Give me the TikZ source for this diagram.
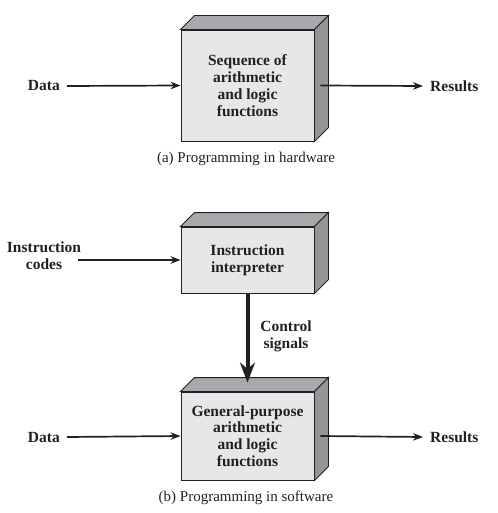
\documentclass[tikz,border=0pt]{standalone}
\usepackage{fontspec}
\setmainfont{Liberation Serif}
\usetikzlibrary{arrows.meta,calc}
\definecolor{frontc}{HTML}{E6E7E8}
\definecolor{topc}{HTML}{A7A9AC}
\definecolor{sidec}{HTML}{939598}
\definecolor{inkc}{HTML}{231F20}
\tikzset{
  box/.style={draw=inkc, line width=0.9pt, fill=frontc, align=center, font=\fontsize{15.5}{16.8}\selectfont\bfseries, text=inkc, inner sep=0pt},
  lbl/.style={align=center, font=\fontsize{15.5}{16.8}\selectfont\bfseries, text=inkc},
  captxt/.style={font=\fontsize{15}{17}\selectfont, text=inkc},
  flow/.style={draw=inkc, line width=1.7pt, -{Stealth[length=10pt,width=7.5pt]}},
  bigflow/.style={draw=inkc, line width=4pt, -{Stealth[length=20pt,width=15pt]}}
}
\newcommand{\boxdepth}[1]{%
  \fill[topc,draw=inkc,line width=0.9pt] (#1.north west) -- ++(14,-14) -- ($(#1.north east)+(14,-14)$) -- (#1.north east) -- cycle;
  \fill[sidec,draw=inkc,line width=0.9pt] (#1.north east) -- ++(14,-14) -- ($(#1.south east)+(14,-14)$) -- (#1.south east) -- cycle;
}
\begin{document}
\begin{tikzpicture}[x=1pt,y=-1pt]
\useasboundingbox (0,0) rectangle (497,513);
% (a)
\node[box, minimum width=133pt, minimum height=111pt] (b1) at (247.5,85.5) {Sequence of\\arithmetic\\and logic\\functions};
\boxdepth{b1}
\node[lbl, anchor=east, inner sep=0pt] (d1) at (60,86) {Data};
\node[lbl, anchor=west, inner sep=0pt] (r1) at (430,86) {Results};
\draw[flow] ([xshift=7pt]d1.east) -- (b1.west);
\draw[flow] ([xshift=6pt]b1.east) -- ([xshift=-7pt]r1.west);
\node[captxt] (ca) at (246,159) {(a) Programming in hardware};
% (b)
\node[box, minimum width=133pt, minimum height=66pt] (b2) at (247.5,260) {Instruction\\interpreter};
\boxdepth{b2}
\node[box, minimum width=133pt, minimum height=88pt] (b3) at (247.5,436) {General-purpose\\arithmetic\\and logic\\functions};
\boxdepth{b3}
\node[lbl, inner sep=0pt] (ic) at (44,256) {Instruction\\codes};
\coordinate (icstart) at (78,260);
\draw[flow] (icstart) -- (b2.west);
\node[lbl, anchor=east, inner sep=0pt] (d2) at (60,437) {Data};
\node[lbl, anchor=west, inner sep=0pt] (r2) at (430,437) {Results};
\draw[flow] ([xshift=7pt]d2.east) -- (b3.west);
\draw[flow] ([xshift=6pt]b3.east) -- ([xshift=-7pt]r2.west);
\draw[bigflow] (b2.south) -- ([yshift=9pt]b3.north);
\node[lbl] (cs) at (286,336) {Control\\signals};
\node[captxt] (cb) at (246,498) {(b) Programming in software};
\end{tikzpicture}
\end{document}
